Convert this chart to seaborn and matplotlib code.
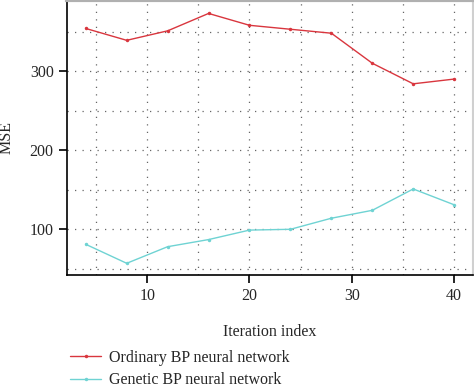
import numpy as np
import pandas as pd
import matplotlib
matplotlib.use("Agg")
import matplotlib.pyplot as plt
import seaborn as sns

# data
iterations = [4, 8, 12, 16, 20, 24, 28, 32, 36, 40]
ordinary_mse = [354, 339, 351, 373, 358, 353, 348, 310, 284, 290]
genetic_mse = [81, 57, 78, 87, 99, 100, 114, 124, 151, 131]
series_names = ["Ordinary BP neural network", "Genetic BP neural network"]

df = pd.DataFrame({
    "Iteration index": iterations * 2,
    "MSE": ordinary_mse + genetic_mse,
    "model": [series_names[0]] * len(iterations) + [series_names[1]] * len(iterations),
})

sns.set_style("white")
plt.rcParams['font.family'] = ['Liberation Serif', 'DejaVu Serif']

fig = plt.figure(figsize=(4.74, 3.87), dpi=100)
ax = fig.add_axes([0.141, 0.289, 0.856, 0.711])

palette = {series_names[0]: "#d9363e", series_names[1]: "#6fd3d3"}
sns.lineplot(data=df, x="Iteration index", y="MSE", hue="model", palette=palette,
             marker="o", markersize=2.5, markeredgewidth=0, linewidth=1.0, ax=ax)

ax.set_xlim(2.15, 41.8)
ax.set_ylim(42, 390)
ax.set_xticks([10, 20, 30, 40])
ax.set_yticks([100, 200, 300])
ax.set_xticks([5, 15, 25, 35], minor=True)
ax.set_yticks([50, 150, 250, 350], minor=True)
ax.grid(True, which="both", linestyle=(0, (1, 5)), color="#666666", linewidth=0.9)

ax.tick_params(axis="both", which="major", direction="out", length=6, width=1.2,
               labelsize=11.5, color="black", left=True, bottom=True)
ax.tick_params(axis="both", which="minor", length=0)

for side in ["left", "bottom"]:
    ax.spines[side].set_color("black")
    ax.spines[side].set_linewidth(1.2)
ax.spines["top"].set_color("#b0b0b0")
ax.spines["top"].set_linewidth(3)
ax.spines["right"].set_color("#d0d0d0")
ax.spines["right"].set_linewidth(1.5)

ax.set_xlabel("Iteration index", fontsize=11.5, labelpad=14)
ax.set_ylabel("MSE", fontsize=11.5)
ax.yaxis.set_label_coords(-0.128, 0.5)

handles, labels = ax.get_legend_handles_labels()
ax.get_legend().remove()
fig.legend(handles, labels, loc="upper left", bbox_to_anchor=(0.135, 0.112),
           frameon=False, fontsize=11.5, handlelength=1.9, handletextpad=0.5,
           labelspacing=0.4, borderaxespad=0)

fig.savefig("out.png", dpi=100)
